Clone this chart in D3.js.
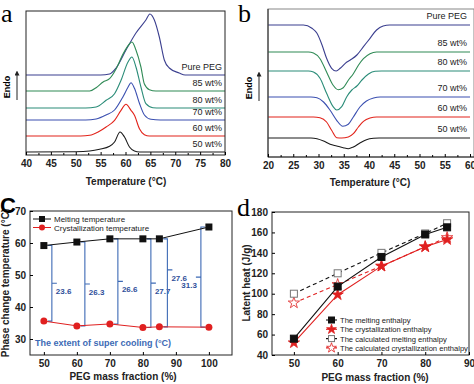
<!DOCTYPE html>
<html>
<head>
<meta charset="utf-8">
<script src="https://cdn.jsdelivr.net/npm/d3@7"></script>
<style>
  body { margin: 0; background: #fff; }
  svg { font-family: "Liberation Sans", Arial, sans-serif; }
</style>
</head>
<body>
<div id="container"></div>
<script>
/* CONSTANTS AND GLOBALS */
const width = 474;
const height = 384;

// panel a: DSC heating curves, [temperature, height above baseline]
const meltNames = ["Pure PEG", "85 wt%", "80 wt%", "70 wt%", "60 wt%", "50 wt%"];
const meltBase = [80, 64, 47, 35, 19, 3];
const meltCurves = [
  [[40,0],[55,0],[56.8,1],[58.1,7],[60.1,25],[62.1,42],[64.1,55],[64.9,61],[65.8,55],[66.8,38],[67.8,15],[68.8,7],[70.8,2],[72,0],[80,0]],
  [[40,0],[52.8,0],[54.1,3.3],[55.5,9],[56.8,12.3],[58.1,22],[59.5,37],[60.8,47],[61.3,49],[62.1,41],[63.1,24],[63.8,7],[64.8,1.3],[66.1,0],[80,0]],
  [[40,0],[52,0],[54.1,1],[56.1,7.7],[57.8,14.3],[59.1,27.7],[60.5,46],[61.3,51],[62.1,41],[63.1,21],[64.1,4.3],[65.5,0.3],[67,0],[80,0]],
  [[40,0],[52,0],[54.1,1],[56.1,5],[57.8,10],[59.5,23.3],[60.5,32.7],[61.1,37.3],[61.8,31.7],[62.8,16.7],[63.8,5],[65.1,0.7],[67,0],[80,0]],
  [[40,0],[51,0],[52.8,0.7],[54.5,4],[56.1,9],[57.8,15.7],[59.1,25.7],[60.1,31.7],[61.1,25.7],[61.8,20.7],[62.8,7.3],[63.8,1.3],[64.8,0],[80,0]],
  [[40,0],[50,0.3],[52.8,1],[54.8,2.7],[56.8,5.7],[57.8,10],[58.9,20],[59.8,15],[60.8,5],[61.8,1],[62.8,0],[80,0]]
];

// panel b: DSC cooling curves, [temperature, depth below baseline]
const crystBase = [132, 105, 86, 60, 40, 19];
const crystCurves = [
  [[20,0],[27,0],[28.7,3.3],[29.7,8.3],[30.7,20],[31.6,33.3],[32.6,43.3],[33.5,46],[34.3,43.3],[35.3,38.3],[36.3,35],[37.6,30],[38.9,21.7],[40.2,13.3],[41.5,5],[42.8,1],[44.1,0],[60,0]],
  [[20,0],[28,0],[29,1],[30.3,6.7],[31.6,20],[32.9,33.3],[33.9,37.7],[34.9,35.7],[35.9,28.3],[36.9,21.7],[37.9,13.3],[38.9,6.7],[40.2,1.7],[41.5,0],[60,0]],
  [[20,0],[28,0],[29,1],[30.3,7.3],[31.6,22.3],[32.9,35.7],[33.6,39],[34.6,35.7],[35.6,25.7],[36.6,19],[37.6,15],[38.6,9],[39.9,3],[41.2,0.3],[42.5,0],[60,0]],
  [[20,0],[28.5,0],[29.7,0.7],[31,5],[32.3,13.3],[33.6,23.3],[34.8,29.3],[35.9,27.3],[36.9,20],[38.2,10],[39.5,4],[40.9,1],[42.2,0],[60,0]],
  [[20,0],[29,0],[30.3,0.7],[31.6,5],[32.6,13.3],[33.6,20.7],[34.6,21],[35.9,20],[36.9,16.7],[37.9,10],[38.9,4.3],[40.2,1],[41.5,0],[60,0]],
  [[20,0],[28.5,0],[29.7,0.7],[31,3],[32.3,6.3],[33.6,8],[34.9,9.7],[35.9,10.7],[36.9,9],[38.2,5],[39.5,1.7],[40.9,0.3],[42,0],[60,0]]
];
const curveColors = ["#3b3f8f", "#2f8a55", "#2a8c78", "#3a4fb0", "#e2231a", "#1a1a1a"];

// panel c
const fraction = [50, 60, 70, 80, 85, 100];
const meltTemp = [59.2, 60.3, 61.3, 61.3, 61.3, 65.0];
const crystTemp = [35.6, 34.1, 34.7, 33.6, 33.8, 33.7];
const superCooling = ["23.6", "26.3", "26.6", "27.7", "27.6", "31.3"];

// panel d
const fractionD = [50, 60, 70, 80, 85];
const meltEnthalpy = [56, 107, 136, 158, 165];
const crystEnthalpy = [52, 99, 127, 146, 153];
const calcMeltEnthalpy = [100, 120, 140, 159, 169];
const calcCrystEnthalpy = [91, 109, 127, 146, 155];

const svg = d3.select("#container")
  .append("svg")
  .attr("width", width)
  .attr("height", height);

const tickFont = 10;

function panelLetter(x, y, t, serif) {
  svg.append("text")
    .attr("x", x).attr("y", y)
    .attr("font-family", serif ? "'Liberation Serif', serif" : "'Liberation Sans', sans-serif")
    .attr("font-size", serif ? 26 : 22)
    .attr("font-weight", serif ? "normal" : "bold")
    .text(t);
}

function endoMark(x, y) {
  svg.append("text")
    .attr("transform", `translate(${x},${y}) rotate(-90)`)
    .attr("text-anchor", "middle")
    .attr("font-size", 9).attr("font-weight", "bold")
    .text("Endo");
  svg.append("line")
    .attr("x1", x + 7).attr("x2", x + 7)
    .attr("y1", y + 13).attr("y2", y - 14)
    .attr("stroke", "#222").attr("stroke-width", 1)
    .attr("marker-end", "url(#arrow)");
}

svg.append("defs").append("marker")
  .attr("id", "arrow").attr("viewBox", "0 0 6 6")
  .attr("refX", 3).attr("refY", 3)
  .attr("markerWidth", 5).attr("markerHeight", 5)
  .attr("orient", "auto")
  .append("path").attr("d", "M0,0L6,3L0,6Z").attr("fill", "#222");

function bottomAxis(xScale, y, ticks, minor) {
  const g = svg.append("g").attr("transform", `translate(0,${y})`);
  g.call(d3.axisBottom(xScale).tickValues(ticks).tickSize(-3).tickPadding(5).tickFormat(d3.format("d")));
  if (minor) {
    g.append("g").call(d3.axisBottom(xScale).tickValues(minor).tickSize(-2).tickFormat(""))
      .select(".domain").remove();
  }
  g.selectAll("text").attr("font-size", tickFont).attr("font-weight", "bold").attr("fill", "#222");
  g.select(".domain").remove();
  return g;
}

function frame(x0, y0, x1, y1, col) {
  svg.append("rect")
    .attr("x", x0).attr("y", y0)
    .attr("width", x1 - x0).attr("height", y1 - y0)
    .attr("fill", "none").attr("stroke", col || "#222").attr("stroke-width", 1);
}

function axisTitle(x, y, t, rot) {
  svg.append("text")
    .attr("transform", `translate(${x},${y})` + (rot ? " rotate(-90)" : ""))
    .attr("text-anchor", "middle")
    .attr("font-size", 10).attr("font-weight", "bold").attr("fill", "#222")
    .text(t);
}

/* PANEL A */
const xA = d3.scaleLinear().domain([40, 80]).range([26, 225]);
const yA = d3.scaleLinear().domain([0, 144]).range([155, 11]);
const lineA = d3.line().curve(d3.curveMonotoneX);

meltCurves.forEach((c, i) => {
  svg.append("path")
    .attr("d", lineA(c.map(p => [xA(p[0]), yA(meltBase[i] + p[1])])))
    .attr("fill", "none").attr("stroke", curveColors[i]).attr("stroke-width", 1.1);
  svg.append("text")
    .attr("x", 222).attr("y", yA(meltBase[i]) - 5)
    .attr("text-anchor", "end").attr("font-size", 9).attr("fill", "#222")
    .text(meltNames[i]);
});
frame(26, 11, 225, 155);
bottomAxis(xA, 155, d3.range(40, 81, 5), d3.range(42.5, 80, 5));
axisTitle(126, 185, "Temperature (\u00B0C)");
endoMark(10, 87);
panelLetter(1, 22, "a", true);

/* PANEL B */
const xB = d3.scaleLinear().domain([20, 60]).range([268, 470]);
const yB = d3.scaleLinear().domain([0, 148]).range([157, 9]);

crystCurves.forEach((c, i) => {
  svg.append("path")
    .attr("d", lineA(c.map(p => [xB(p[0]), yB(crystBase[i] - p[1])])))
    .attr("fill", "none").attr("stroke", curveColors[i]).attr("stroke-width", 1.1);
  svg.append("text")
    .attr("x", 467).attr("y", yB(crystBase[i]) - 6)
    .attr("text-anchor", "end").attr("font-size", 9).attr("fill", "#222")
    .text(i === 0 ? "Pure PEG" : meltNames[i]);
});
frame(268, 9, 474, 157, "#888");
svg.append("line").attr("x1", 268).attr("x2", 268).attr("y1", 9).attr("y2", 157).attr("stroke", "#222");
svg.append("line").attr("x1", 268).attr("x2", 474).attr("y1", 157).attr("y2", 157).attr("stroke", "#222");
bottomAxis(xB, 157, d3.range(20, 61, 5), d3.range(22.5, 60, 5));
axisTitle(370, 186, "Temperature (\u00B0C)");
endoMark(252, 88);
panelLetter(238, 22, "b", true);

/* PANEL C */
const xC = d3.scaleLinear().domain([45.8, 107]).range([30, 232]);
const yC = d3.scaleLinear().domain([25, 70]).range([355, 211]);
const blue = "#3d6ab5";

frame(30, 211, 232, 355);
bottomAxis(xC, 355, [50, 60, 70, 80, 90, 100]);
const gyC = svg.append("g").attr("transform", "translate(30,0)")
  .call(d3.axisLeft(yC).tickValues([30, 40, 50, 60, 70]).tickSize(-3).tickPadding(4));
gyC.select(".domain").remove();
gyC.selectAll("text").attr("font-size", tickFont).attr("font-weight", "bold").attr("fill", "#222");

// super cooling brackets
fraction.forEach((f, i) => {
  const side = f === 100 ? -1 : 1;
  const vx = xC(f) + side * 8;
  const yT = yC(meltTemp[i]), yB2 = yC(crystTemp[i]);
  const mid = (yT + yB2) / 2 + (f === 85 ? -13 : 0);
  svg.append("path")
    .attr("d", `M${xC(f) + side * 4},${yT}H${vx}V${yB2}H${xC(f) + side * 4}M${vx},${mid}h${side * 5}`)
    .attr("fill", "none").attr("stroke", blue).attr("stroke-width", 1.1);
  svg.append("text")
    .attr("x", vx + side * 4).attr("y", mid + 11)
    .attr("text-anchor", side > 0 ? "start" : "end")
    .attr("font-size", 8).attr("font-weight", "bold").attr("fill", "#2f4f9a")
    .text(superCooling[i]);
});

const lineC = d3.line();
svg.append("path")
  .attr("d", lineC(fraction.map((f, i) => [xC(f), yC(meltTemp[i])])))
  .attr("fill", "none").attr("stroke", "#111").attr("stroke-width", 1);
svg.append("path")
  .attr("d", lineC(fraction.map((f, i) => [xC(f), yC(crystTemp[i])])))
  .attr("fill", "none").attr("stroke", "#e02020").attr("stroke-width", 1);
svg.selectAll(".mt").data(fraction).join("rect")
  .attr("x", d => xC(d) - 3.5).attr("y", (d, i) => yC(meltTemp[i]) - 3.5)
  .attr("width", 7).attr("height", 7).attr("fill", "#111");
svg.selectAll(".ct").data(fraction).join("circle")
  .attr("cx", d => xC(d)).attr("cy", (d, i) => yC(crystTemp[i]))
  .attr("r", 3.5).attr("fill", "#e02020");

// legend c
[["Melting temperature", "#111", "rect"], ["Crystallization temperature", "#e02020", "circle"]].forEach((l, i) => {
  const ly = 219 + i * 8.5;
  svg.append("line").attr("x1", 33).attr("x2", 51).attr("y1", ly).attr("y2", ly).attr("stroke", l[1]);
  if (l[2] === "rect") svg.append("rect").attr("x", 39).attr("y", ly - 3).attr("width", 6).attr("height", 6).attr("fill", l[1]);
  else svg.append("circle").attr("cx", 42).attr("cy", ly).attr("r", 3).attr("fill", l[1]);
  svg.append("text").attr("x", 54).attr("y", ly + 3).attr("font-size", 8).attr("fill", "#222").text(l[0]);
});
svg.append("text").attr("x", 35).attr("y", 346)
  .attr("font-size", 9).attr("font-weight", "bold").attr("fill", "#3d6ab5")
  .text("The extent of super cooling (\u00B0C)");

axisTitle(123, 380, "PEG mass fraction (%)");
axisTitle(9, 283, "Phase change temperature (\u00B0C)", true);
panelLetter(0, 213, "C", false);

/* PANEL D */
const xD = d3.scaleLinear().domain([45, 90]).range([272, 469]);
const yD = d3.scaleLinear().domain([40, 180]).range([355, 212]);

frame(272, 212, 469, 355);
bottomAxis(xD, 355, [50, 60, 70, 80, 90]);
const gyD = svg.append("g").attr("transform", "translate(272,0)")
  .call(d3.axisLeft(yD).tickValues(d3.range(40, 181, 20)).tickSize(-3).tickPadding(4));
gyD.select(".domain").remove();
gyD.selectAll("text").attr("font-size", tickFont).attr("font-weight", "bold").attr("fill", "#222");

const starPath = d3.symbol().type(d3.symbolStar).size(40);
const seriesD = [
  { v: meltEnthalpy, color: "#111", dash: null, mark: "square", fill: "#111", name: "The melting enthalpy" },
  { v: crystEnthalpy, color: "#e02020", dash: null, mark: "star", fill: "#e02020", name: "The crystallization enthalpy" },
  { v: calcMeltEnthalpy, color: "#111", dash: "4,3", mark: "square", fill: "#fff", name: "The calculated melting enthalpy" },
  { v: calcCrystEnthalpy, color: "#e02020", dash: "4,3", mark: "star", fill: "#fff", name: "The calculated crystallization enthalpy" }
];
seriesD.slice().reverse().forEach(s => {
  svg.append("path")
    .attr("d", d3.line()(fractionD.map((f, i) => [xD(f), yD(s.v[i])])))
    .attr("fill", "none").attr("stroke", s.color).attr("stroke-width", 1.1)
    .attr("stroke-dasharray", s.dash);
  fractionD.forEach((f, i) => {
    if (s.mark === "square") {
      svg.append("rect").attr("x", xD(f) - 3.5).attr("y", yD(s.v[i]) - 3.5)
        .attr("width", 7).attr("height", 7).attr("fill", s.fill).attr("stroke", s.dash ? "#777" : s.color);
    } else {
      svg.append("path").attr("d", starPath).attr("transform", `translate(${xD(f)},${yD(s.v[i])})`)
        .attr("fill", s.fill).attr("stroke", s.color).attr("stroke-width", 0.8);
    }
  });
});
seriesD.forEach((s, i) => {
  const ly = 320 + i * 9.3;
  svg.append("line").attr("x1", 326).attr("x2", 337).attr("y1", ly).attr("y2", ly)
    .attr("stroke", s.color).attr("stroke-width", 1.1).attr("stroke-dasharray", s.dash);
  if (s.mark === "square") svg.append("rect").attr("x", 328.5).attr("y", ly - 3).attr("width", 6).attr("height", 6)
    .attr("fill", s.fill).attr("stroke", s.dash ? "#777" : s.color);
  else svg.append("path").attr("d", d3.symbol().type(d3.symbolStar).size(30)).attr("transform", `translate(331.5,${ly})`)
    .attr("fill", s.fill).attr("stroke", s.color).attr("stroke-width", 0.8);
  svg.append("text").attr("x", 340).attr("y", ly + 3).attr("font-size", 7.6).attr("fill", "#222").text(s.name);
});

axisTitle(375, 381, "PEG mass fraction (%)");
axisTitle(250, 283, "Latent heat (J/g)", true);
panelLetter(237, 216, "d", true);
</script>
</body>
</html>
